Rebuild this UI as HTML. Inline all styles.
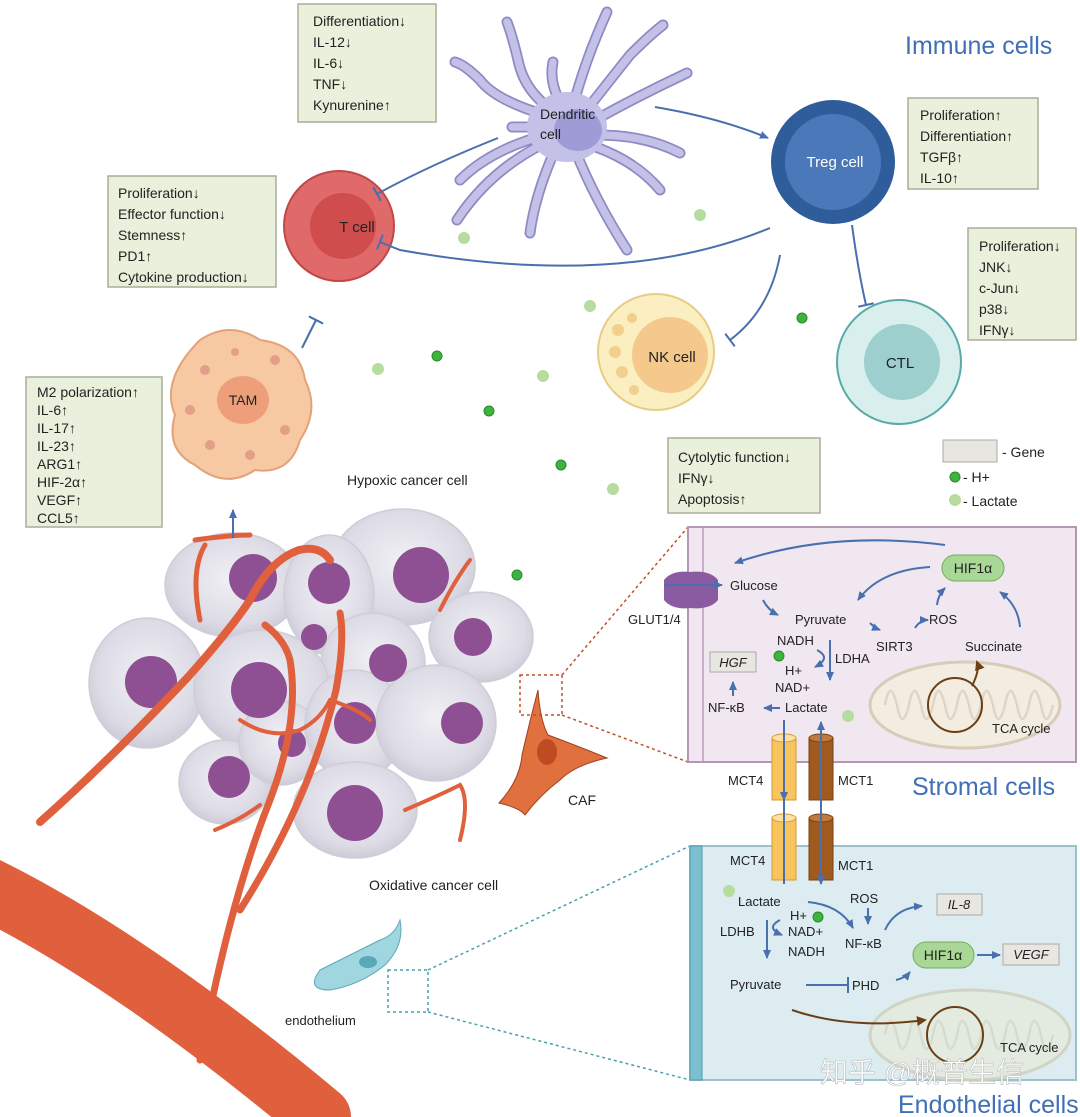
<!DOCTYPE html>
<html><head><meta charset="utf-8"><style>
html,body{margin:0;padding:0;background:#fff}
svg{display:block}
text{font-family:"Liberation Sans","Noto Sans CJK SC",sans-serif;fill:#222}
.bx{fill:#e9f0dc;stroke:#a9ae98;stroke-width:1.5}
.t{font-size:14px}
.s{font-size:13px}
.ar{stroke:#4a6fae;stroke-width:2;fill:none}
</style></head><body>
<svg width="1080" height="1117" viewBox="0 0 1080 1117" xmlns="http://www.w3.org/2000/svg">
<defs>
<marker id="a" markerUnits="userSpaceOnUse" markerWidth="10" markerHeight="10" refX="8" refY="5" orient="auto"><path d="M0,1L9,5L0,9z" fill="#4a6fae"/></marker>
<marker id="b" markerUnits="userSpaceOnUse" markerWidth="12" markerHeight="12" refX="8" refY="6" orient="auto"><path d="M0,1L10,6L0,11z" fill="#6b3f16"/></marker>
<marker id="tb" markerUnits="userSpaceOnUse" markerWidth="4" markerHeight="16" refX="2" refY="8" orient="auto"><path d="M2,0V16" stroke="#4a6fae" stroke-width="2"/></marker>
<radialGradient id="cell" cx="50%" cy="45%" r="60%"><stop offset="0" stop-color="#f1f0f5"/><stop offset="0.7" stop-color="#dddbe5"/><stop offset="1" stop-color="#c9c6d4"/></radialGradient>
</defs>

<!-- text boxes -->
<rect class="bx" x="298" y="4" width="138" height="118"/>
<text class="t" x="313" y="26">Differentiation↓</text><text class="t" x="313" y="47">IL-12↓</text><text class="t" x="313" y="68">IL-6↓</text><text class="t" x="313" y="89">TNF↓</text><text class="t" x="313" y="110">Kynurenine↑</text>
<rect class="bx" x="108" y="176" width="168" height="111"/>
<text class="t" x="118" y="198">Proliferation↓</text><text class="t" x="118" y="219">Effector function↓</text><text class="t" x="118" y="240">Stemness↑</text><text class="t" x="118" y="261">PD1↑</text><text class="t" x="118" y="282">Cytokine production↓</text>
<rect class="bx" x="908" y="98" width="130" height="91"/>
<text class="t" x="920" y="120">Proliferation↑</text><text class="t" x="920" y="141">Differentiation↑</text><text class="t" x="920" y="162">TGFβ↑</text><text class="t" x="920" y="183">IL-10↑</text>
<rect class="bx" x="968" y="228" width="108" height="112"/>
<text class="t" x="979" y="251">Proliferation↓</text><text class="t" x="979" y="272">JNK↓</text><text class="t" x="979" y="293">c-Jun↓</text><text class="t" x="979" y="314">p38↓</text><text class="t" x="979" y="335">IFNγ↓</text>
<rect class="bx" x="26" y="377" width="136" height="150"/>
<text class="t" x="37" y="397">M2 polarization↑</text><text class="t" x="37" y="415">IL-6↑</text><text class="t" x="37" y="433">IL-17↑</text><text class="t" x="37" y="451">IL-23↑</text><text class="t" x="37" y="469">ARG1↑</text><text class="t" x="37" y="487">HIF-2α↑</text><text class="t" x="37" y="505">VEGF↑</text><text class="t" x="37" y="523">CCL5↑</text>
<rect class="bx" x="668" y="438" width="152" height="75"/>
<text class="t" x="678" y="462">Cytolytic function↓</text><text class="t" x="678" y="483">IFNγ↓</text><text class="t" x="678" y="504">Apoptosis↑</text>

<text x="905" y="54" style="font-size:25px;fill:#3f6fb5">Immune cells</text>

<!-- dendritic cell -->
<g id="arms" stroke-linecap="round" fill="none">
<g stroke="#8e8ac4" stroke-width="11">
<path d="M560,115 Q525,95 518,60 Q512,35 507,22"/>
<path d="M565,110 Q548,85 553,62"/>
<path d="M572,110 Q585,60 607,12"/>
<path d="M585,112 Q610,80 630,55 Q650,35 663,25"/>
<path d="M595,120 Q640,95 687,73"/>
<path d="M598,135 Q645,135 680,153"/>
<path d="M590,145 Q635,160 660,190"/>
<path d="M575,150 Q595,200 627,250"/>
<path d="M555,150 Q535,195 530,233"/>
<path d="M545,143 Q490,170 457,220"/>
<path d="M545,135 Q490,150 460,180"/>
<path d="M545,115 Q495,100 480,80 Q465,65 455,62"/>
<path d="M540,127 L512,127"/>
</g>
<g stroke="#c3c1e8" stroke-width="7.5">
<path d="M560,115 Q525,95 518,60 Q512,35 507,22"/>
<path d="M565,110 Q548,85 553,62"/>
<path d="M572,110 Q585,60 607,12"/>
<path d="M585,112 Q610,80 630,55 Q650,35 663,25"/>
<path d="M595,120 Q640,95 687,73"/>
<path d="M598,135 Q645,135 680,153"/>
<path d="M590,145 Q635,160 660,190"/>
<path d="M575,150 Q595,200 627,250"/>
<path d="M555,150 Q535,195 530,233"/>
<path d="M545,143 Q490,170 457,220"/>
<path d="M545,135 Q490,150 460,180"/>
<path d="M545,115 Q495,100 480,80 Q465,65 455,62"/>
<path d="M540,127 L512,127"/>
</g>
</g>
<ellipse cx="567" cy="127" rx="40" ry="35" fill="#c3c1e8"/>
<ellipse cx="578" cy="130" rx="24" ry="21" fill="#9f9bd6"/>
<text class="t" x="540" y="119">Dendritic</text><text class="t" x="540" y="139">cell</text>

<!-- Treg -->
<circle cx="833" cy="162" r="62" fill="#2f5d9c"/><circle cx="833" cy="162" r="48" fill="#4a78b8"/>
<text x="835" y="167" text-anchor="middle" style="font-size:15px;fill:#fff">Treg cell</text>
<!-- T cell -->
<circle cx="339" cy="226" r="55" fill="#e06a6a" stroke="#c04848" stroke-width="2"/><circle cx="343" cy="226" r="33" fill="#cf4d4d"/>
<text x="357" y="232" text-anchor="middle" style="font-size:15px">T cell</text>
<!-- NK -->
<circle cx="656" cy="352" r="58" fill="#fbeec0" stroke="#e6cc85" stroke-width="2"/><circle cx="670" cy="355" r="38" fill="#f4c98b"/>
<g fill="#f1cf8d"><circle cx="618" cy="330" r="6"/><circle cx="615" cy="352" r="6"/><circle cx="622" cy="372" r="6"/><circle cx="632" cy="318" r="5"/><circle cx="634" cy="390" r="5"/></g>
<text x="672" y="362" text-anchor="middle" style="font-size:15px">NK cell</text>
<!-- CTL -->
<circle cx="899" cy="362" r="62" fill="#d8efee" stroke="#58aaa8" stroke-width="2"/><circle cx="902" cy="362" r="38" fill="#9ccfce"/>
<text x="900" y="368" text-anchor="middle" style="font-size:15px">CTL</text>
<!-- TAM -->
<path d="M200,340 Q230,320 260,340 Q300,345 305,380 Q320,410 300,440 Q290,475 255,470 Q225,490 195,465 Q165,450 175,415 Q160,380 200,340z" fill="#f6c9a3" stroke="#e3a27a" stroke-width="2"/>
<ellipse cx="243" cy="400" rx="26" ry="24" fill="#ee9f7a"/>
<g fill="#e39f88"><circle cx="205" cy="370" r="5"/><circle cx="190" cy="410" r="5"/><circle cx="210" cy="445" r="5"/><circle cx="275" cy="360" r="5"/><circle cx="285" cy="430" r="5"/><circle cx="250" cy="455" r="5"/><circle cx="235" cy="352" r="4"/></g>
<text x="243" y="405" text-anchor="middle" style="font-size:14px">TAM</text>

<!-- arrows immune -->
<path class="ar" d="M655,107 Q720,118 768,138" marker-end="url(#a)"/>
<path class="ar" d="M498,138 Q430,165 377,194" marker-end="url(#tb)"/>
<path class="ar" d="M770,228 Q620,290 400,250 L380,242" marker-end="url(#tb)"/>
<path class="ar" d="M780,255 Q770,310 730,340" marker-end="url(#tb)"/>
<path class="ar" d="M852,225 Q858,270 866,305" marker-end="url(#tb)"/>
<path class="ar" d="M302,348 L316,320" marker-end="url(#tb)"/>
<!-- dots -->
<g fill="#3fb33f" stroke="#2a8a2a"><circle cx="437" cy="356" r="5"/><circle cx="489" cy="411" r="5"/><circle cx="561" cy="465" r="5"/><circle cx="802" cy="318" r="5"/><circle cx="517" cy="575" r="5"/></g>
<g fill="#b6dca0"><circle cx="464" cy="238" r="6"/><circle cx="700" cy="215" r="6"/><circle cx="590" cy="306" r="6"/><circle cx="378" cy="369" r="6"/><circle cx="543" cy="376" r="6"/><circle cx="613" cy="489" r="6"/></g>

<text class="t" x="347" y="485">Hypoxic cancer cell</text>
<text class="t" x="369" y="890">Oxidative cancer cell</text>
<!-- tumor -->
<g stroke="#cfcdd8" stroke-width="1.5" fill="url(#cell)">
<ellipse cx="147" cy="683" rx="58" ry="65"/>
<ellipse cx="233" cy="585" rx="68" ry="52"/>
<ellipse cx="403" cy="567" rx="72" ry="58"/>
<ellipse cx="329" cy="595" rx="45" ry="60"/>
<ellipse cx="481" cy="637" rx="52" ry="45"/>
<ellipse cx="373" cy="663" rx="52" ry="50"/>
<ellipse cx="262" cy="690" rx="68" ry="60"/>
<ellipse cx="225" cy="782" rx="46" ry="42"/>
<ellipse cx="281" cy="743" rx="42" ry="42"/>
<ellipse cx="355" cy="725" rx="50" ry="55"/>
<ellipse cx="436" cy="723" rx="60" ry="58"/>
<ellipse cx="355" cy="810" rx="62" ry="48"/>
</g>
<g fill="#8e4f93"><circle cx="151" cy="682" r="26"/><circle cx="253" cy="578" r="24"/><circle cx="421" cy="575" r="28"/><circle cx="329" cy="583" r="21"/><circle cx="473" cy="637" r="19"/><circle cx="388" cy="663" r="19"/><circle cx="259" cy="690" r="28"/><circle cx="462" cy="723" r="21"/><circle cx="355" cy="813" r="28"/><circle cx="229" cy="777" r="21"/><circle cx="314" cy="637" r="13"/><circle cx="355" cy="723" r="21"/><circle cx="292" cy="743" r="14"/></g>
<!-- vessel -->
<g fill="none" stroke="#e0603e" stroke-linecap="round">
<path d="M-30,880 Q120,950 320,1117" stroke-width="62"/>
<path d="M40,822 Q110,760 188,677 Q230,630 250,600 Q270,560 299,550 Q320,545 330,560" stroke-width="8"/>
<path d="M200,1060 Q230,900 270,800 Q300,720 290,660 Q285,640 265,625" stroke-width="7"/>
<path d="M240,910 Q310,800 336,690 Q345,640 340,613" stroke-width="7"/>
<path d="M195,540 Q230,535 250,535 M205,545 Q190,570 200,620" stroke-width="5"/>
<path d="M240,720 Q270,740 300,730 Q320,720 330,700" stroke-width="4"/>
<path d="M215,830 Q240,820 260,805" stroke-width="4"/>
<path d="M405,810 Q440,795 460,785 Q470,800 460,840" stroke-width="4"/>
<path d="M440,610 Q455,580 470,560" stroke-width="4"/>
<path d="M330,700 Q360,710 370,720" stroke-width="4"/>
</g>
<path class="ar" d="M233,538 L233,510" marker-end="url(#a)"/>
<!-- CAF -->
<path d="M538,690 Q540,720 548,735 Q575,745 607,758 Q575,765 560,780 Q540,795 525,815 Q520,808 499,803 Q520,780 522,755 Q530,720 538,690z" fill="#e0703e" stroke="#a04020"/>
<ellipse cx="547" cy="752" rx="10" ry="13" fill="#c04a22"/>
<text class="t" x="568" y="805">CAF</text>
<rect x="520" y="675" width="42" height="40" fill="none" stroke="#c0502a" stroke-dasharray="3,3" stroke-width="1.5"/>
<path d="M562,675 L688,527 M562,715 L688,762" stroke="#c0502a" stroke-dasharray="3,3" stroke-width="1.5"/>
<!-- endothelium -->
<path d="M320,970 Q360,950 380,940 Q395,935 400,920 Q405,945 385,965 Q360,985 330,990 Q305,990 320,970z" fill="#9fd6e0" stroke="#5aa8b8"/>
<ellipse cx="368" cy="962" rx="9" ry="6" fill="#5aa8b8"/>
<text class="s" x="285" y="1025">endothelium</text>
<rect x="388" y="970" width="40" height="42" fill="none" stroke="#4aa0b0" stroke-dasharray="3,3" stroke-width="1.5"/>
<path d="M428,970 L690,846 M428,1012 L690,1080" stroke="#4aa0b0" stroke-dasharray="3,3" stroke-width="1.5"/>

<!-- legend -->
<rect x="943" y="440" width="54" height="22" fill="#e8e6e0" stroke="#aaa"/>
<text class="t" x="1002" y="457">- Gene</text>
<circle cx="955" cy="477" r="5" fill="#3fb33f" stroke="#2a8a2a"/><text class="t" x="963" y="482">- H+</text>
<circle cx="955" cy="500" r="6" fill="#b6dca0"/><text class="t" x="963" y="506">- Lactate</text>

<!-- stromal panel -->
<rect x="688" y="527" width="388" height="235" fill="#f1e7f1" stroke="#b597b4" stroke-width="2"/>
<line x1="703" y1="528" x2="703" y2="761" stroke="#c7b0c6" stroke-width="2"/>
<path d="M664,580 Q672,570 690,572 Q710,570 718,580 L718,600 Q710,610 690,608 Q672,610 664,600z" fill="#8a5ba0"/>
<path class="ar" d="M665,585 L722,585" marker-end="url(#a)"/>
<text class="s" x="628" y="624">GLUT1/4</text>
<text class="s" x="730" y="590">Glucose</text>
<path class="ar" d="M945,545 Q830,530 735,563" marker-end="url(#a)"/>
<rect x="942" y="555" width="62" height="26" rx="13" fill="#a9d796" stroke="#6fae5a"/><text x="973" y="573" text-anchor="middle" style="font-size:14px">HIF1α</text>
<path class="ar" d="M930,567 Q880,570 858,600" marker-end="url(#a)"/>
<text class="s" x="795" y="624">Pyruvate</text>
<path class="ar" d="M763,600 Q768,610 778,615" marker-end="url(#a)"/>
<path class="ar" d="M870,623 Q875,628 880,630" marker-end="url(#a)"/>
<text class="s" x="876" y="651">SIRT3</text>
<path class="ar" d="M915,628 Q920,620 928,620" marker-end="url(#a)"/>
<text class="s" x="929" y="624">ROS</text>
<path class="ar" d="M937,605 Q938,595 945,588" marker-end="url(#a)"/>
<path class="ar" d="M1020,627 Q1018,605 1000,592" marker-end="url(#a)"/>
<text class="s" x="965" y="651">Succinate</text>
<text class="s" x="777" y="645">NADH</text>
<circle cx="779" cy="656" r="5" fill="#3fb33f" stroke="#2a8a2a"/>
<path class="ar" d="M830,640 L830,680" marker-end="url(#a)"/>
<path class="ar" d="M817,650 Q832,658 815,667" marker-end="url(#a)"/>
<text class="s" x="835" y="663">LDHA</text>
<text class="s" x="785" y="675">H+</text><text class="s" x="775" y="692">NAD+</text>
<text class="s" x="785" y="712">Lactate</text>
<path class="ar" d="M780,708 L764,708" marker-end="url(#a)"/>
<text class="s" x="708" y="712">NF-κB</text>
<path class="ar" d="M733,696 L733,682" marker-end="url(#a)"/>
<rect x="710" y="652" width="46" height="20" fill="#e8e6e0" stroke="#aaa"/><text x="733" y="667" text-anchor="middle" style="font-size:13px;font-style:italic">HGF</text>
<circle cx="848" cy="716" r="6" fill="#b6dca0"/>
<ellipse cx="965" cy="705" rx="95" ry="43" fill="#f3ece0" stroke="#d8ccb8" stroke-width="3"/>
<path d="M885,705 q5,-28 12,0 q5,28 12,0 q5,-28 12,0 q5,28 12,0 q5,-28 12,0 q5,28 12,0 q5,-28 12,0 q5,28 12,0 q5,-28 12,0 q5,28 12,0 q5,-28 12,0 q5,28 12,0 q5,-28 12,0 q5,28 12,0" fill="none" stroke="#e0d5c4" stroke-width="2.5"/>
<circle cx="955" cy="705" r="27" fill="none" stroke="#6b3f16" stroke-width="2"/>
<path d="M972,686 Q980,670 977,662" stroke="#6b3f16" stroke-width="2" fill="none" marker-end="url(#b)"/>
<text class="s" x="992" y="733">TCA cycle</text>

<!-- MCTs -->
<rect x="772" y="738" width="24" height="62" fill="#f8c45e" stroke="#d69a30"/><ellipse cx="784" cy="738" rx="12" ry="4" fill="#fde1a0" stroke="#d69a30"/>
<rect x="809" y="738" width="24" height="62" fill="#a05a1e" stroke="#7a4010"/><ellipse cx="821" cy="738" rx="12" ry="4" fill="#c07a3e" stroke="#7a4010"/>
<path class="ar" d="M784,720 L784,800" marker-end="url(#a)"/>
<text class="s" x="728" y="785">MCT4</text><text class="s" x="838" y="785">MCT1</text>
<text x="912" y="795" style="font-size:25px;fill:#3f6fb5">Stromal cells</text>

<!-- endothelial panel -->
<rect x="690" y="846" width="386" height="234" fill="#dcecf0" stroke="#9cc1cc" stroke-width="2"/>
<rect x="690" y="846" width="12" height="234" fill="#7cbfd0" stroke="#4aa0b0"/>
<rect x="772" y="818" width="24" height="62" fill="#f8c45e" stroke="#d69a30"/><ellipse cx="784" cy="818" rx="12" ry="4" fill="#fde1a0" stroke="#d69a30"/>
<rect x="809" y="818" width="24" height="62" fill="#a05a1e" stroke="#7a4010"/><ellipse cx="821" cy="818" rx="12" ry="4" fill="#c07a3e" stroke="#7a4010"/>
<line x1="784" y1="800" x2="784" y2="884" stroke="#4a6fae" stroke-width="2"/>
<path class="ar" d="M821,884 L821,722" marker-end="url(#a)"/>
<path class="ar" d="M821,860 L821,884" marker-end="url(#a)"/>
<text class="s" x="730" y="865">MCT4</text><text class="s" x="838" y="870">MCT1</text>
<circle cx="729" cy="891" r="6" fill="#b6dca0"/>
<text class="s" x="738" y="906">Lactate</text>
<path class="ar" d="M808,902 Q840,905 853,928" marker-end="url(#a)"/>
<text class="s" x="850" y="903">ROS</text>
<path class="ar" d="M868,908 L868,924" marker-end="url(#a)"/>
<path class="ar" d="M885,930 Q895,908 922,906" marker-end="url(#a)"/>
<rect x="937" y="894" width="45" height="21" fill="#e8e6e0" stroke="#aaa"/><text x="959" y="909" text-anchor="middle" style="font-size:13px;font-style:italic">IL-8</text>
<text class="s" x="790" y="920">H+</text><circle cx="818" cy="917" r="5" fill="#3fb33f" stroke="#2a8a2a"/>
<text class="s" x="788" y="936">NAD+</text><text class="s" x="788" y="956">NADH</text>
<text class="s" x="720" y="936">LDHB</text>
<path class="ar" d="M767,920 L767,958" marker-end="url(#a)"/>
<path class="ar" d="M780,920 Q765,928 782,935" marker-end="url(#a)"/>
<text class="s" x="845" y="948">NF-κB</text>
<rect x="913" y="942" width="61" height="26" rx="13" fill="#a9d796" stroke="#6fae5a"/><text x="943" y="960" text-anchor="middle" style="font-size:14px">HIF1α</text>
<path class="ar" d="M977,955 L1000,955" marker-end="url(#a)"/>
<rect x="1003" y="944" width="56" height="21" fill="#e8e6e0" stroke="#aaa"/><text x="1031" y="959" text-anchor="middle" style="font-size:13px;font-style:italic">VEGF</text>
<text class="s" x="730" y="989">Pyruvate</text>
<path class="ar" d="M806,985 L848,985" marker-end="url(#tb)"/>
<text class="s" x="852" y="990">PHD</text>
<path class="ar" d="M896,980 Q905,978 910,972" marker-end="url(#a)"/>
<ellipse cx="970" cy="1035" rx="100" ry="45" fill="#e4ebe0" stroke="#d0d2c0" stroke-width="3" opacity="0.9"/>
<path d="M885,1035 q5,-28 12,0 q5,28 12,0 q5,-28 12,0 q5,28 12,0 q5,-28 12,0 q5,28 12,0 q5,-28 12,0 q5,28 12,0 q5,-28 12,0 q5,28 12,0 q5,-28 12,0 q5,28 12,0 q5,-28 12,0 q5,28 12,0" fill="none" stroke="#d6dccd" stroke-width="2.5"/>
<circle cx="955" cy="1035" r="28" fill="none" stroke="#6b3f16" stroke-width="2"/>
<path d="M792,1010 Q850,1030 925,1020" stroke="#6b3f16" stroke-width="2" fill="none" marker-end="url(#b)"/>
<text class="s" x="1000" y="1052">TCA cycle</text>
<text x="820" y="1082" style="font-size:28px;fill:#fff;stroke:#bbb;stroke-width:0.6">知乎 @概普生信</text>
<text x="898" y="1113" style="font-size:25px;fill:#3f6fb5">Endothelial cells</text>
</svg>
</body></html>
